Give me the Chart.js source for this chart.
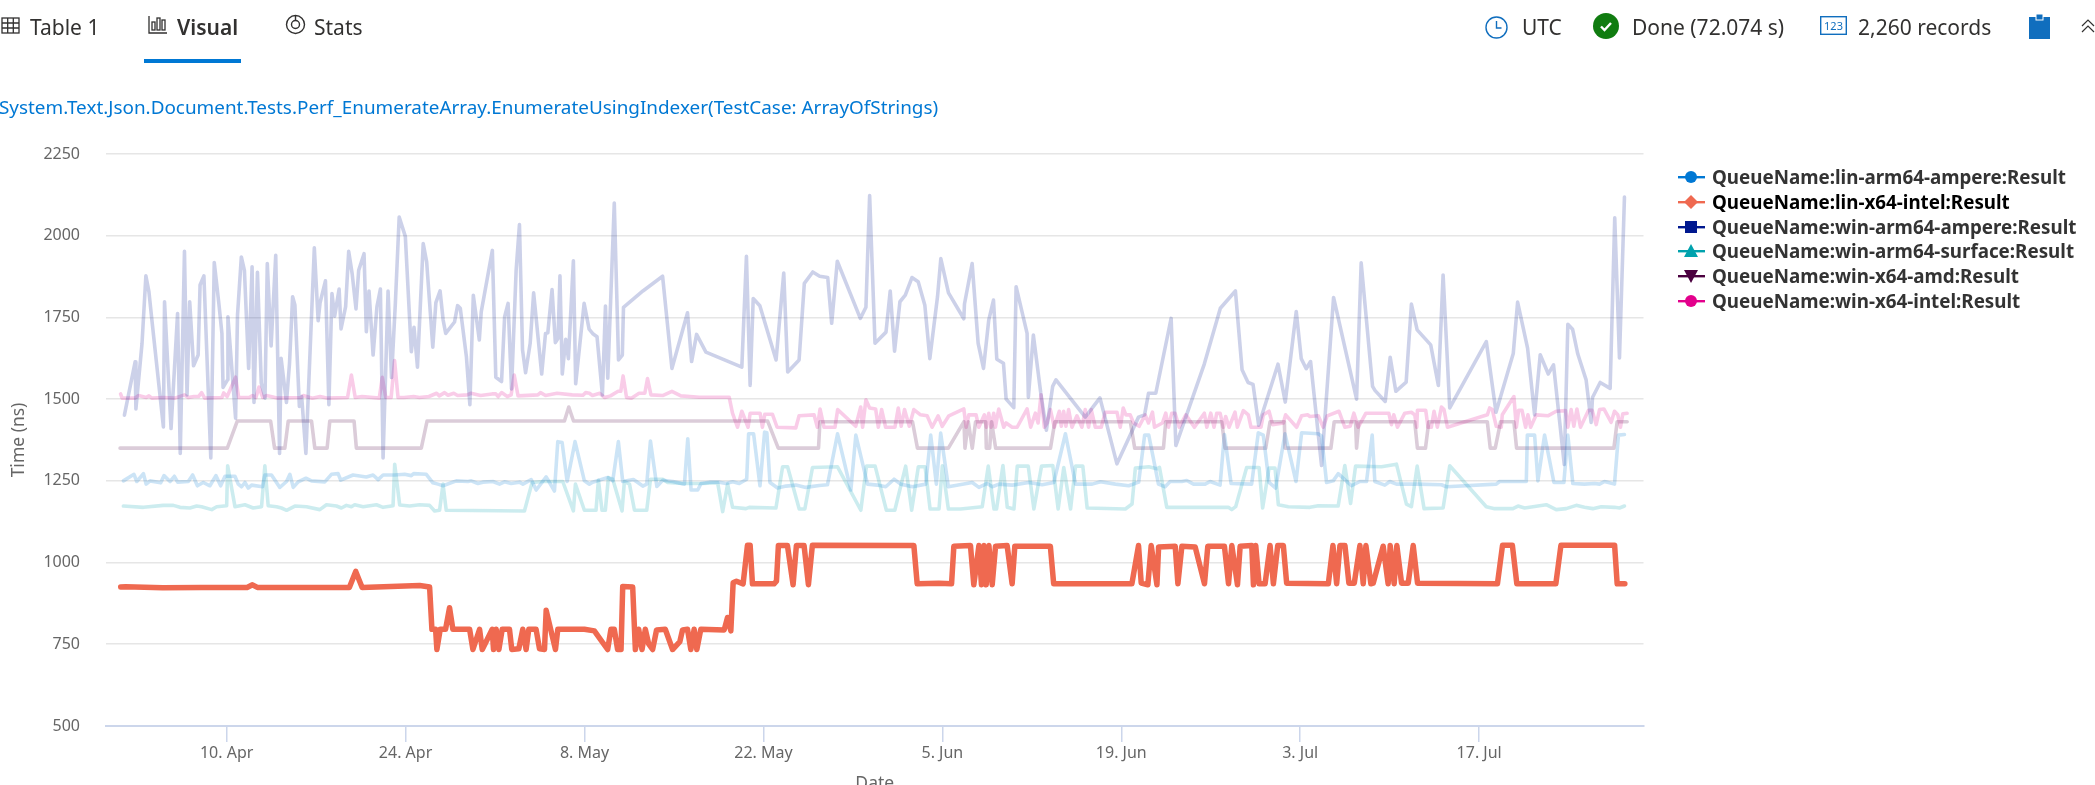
<!DOCTYPE html>
<html>
<head>
<meta charset="utf-8">
<title>EnumerateUsingIndexer</title>
<script src="https://cdn.jsdelivr.net/npm/chart.js@4"></script>
<style>
  html, body { margin: 0; padding: 0; width: 2095px; height: 785px; overflow: hidden; background: #fff; }
  body { position: relative; font-family: "Noto Sans", sans-serif; color: #323130; }
  canvas { position: absolute; left: 0; top: 0; }
  .txt { position: absolute; white-space: nowrap; font-size: 21px; line-height: 26px; top: 14px; }
  .ico { position: absolute; }
  #underline { position: absolute; left: 144px; top: 59px; width: 97px; height: 4px; background: #0078d4; }
  #title { position: absolute; left: -1px; top: 95px; font-size: 18.9px; line-height: 24px; color: #0078d4; white-space: nowrap; }
  #legend { position: absolute; left: 1678px; top: 165px; }
  .row { position: absolute; left: 0; height: 24px; white-space: nowrap; font-size: 18.8px; line-height: 24px; font-weight: 700; color: #333; }
  .row svg { position: absolute; left: 0; top: 0; }
  .row span { position: absolute; left: 34px; top: 0; }
</style>
</head>
<body>
<canvas id="chart" width="2095" height="810"></canvas>

<svg class="ico" style="left:1px;top:17px" width="19" height="17" viewBox="0 0 19 17" fill="none" stroke="#323130" stroke-width="1.3">
  <rect x="1" y="1" width="17" height="15"/><path d="M1 6h17M1 11h17M6.7 1v15M12.3 1v15"/>
</svg>
<div class="txt" style="left:30px">Table 1</div>
<svg class="ico" style="left:148px;top:15px" width="20" height="20" viewBox="0 0 20 20" fill="none" stroke="#323130" stroke-width="1.3">
  <path d="M1 1v17h18"/><rect x="4" y="7" width="3" height="8"/><rect x="9" y="3" width="3" height="12"/><rect x="14" y="5" width="3" height="10"/>
</svg>
<div class="txt" style="left:177px;font-weight:600">Visual</div>
<div id="underline"></div>
<svg class="ico" style="left:285px;top:14px" width="21" height="21" viewBox="0 0 21 21" fill="none" stroke="#323130" stroke-width="1.4">
  <circle cx="10.5" cy="10.5" r="9"/><circle cx="10.5" cy="10.5" r="4"/><path d="M10.5 1.5v5"/>
</svg>
<div class="txt" style="left:314px">Stats</div>

<svg class="ico" style="left:1485px;top:16px" width="23" height="23" viewBox="0 0 23 23" fill="none" stroke="#106ebe" stroke-width="1.4">
  <circle cx="11.5" cy="11.5" r="10.5"/><path d="M11.5 5v7h5"/>
</svg>
<div class="txt" style="left:1522px">UTC</div>
<svg class="ico" style="left:1593px;top:13px" width="26" height="26" viewBox="0 0 26 26">
  <circle cx="13" cy="13" r="13" fill="#107c10"/><path d="M8 13.5l3.5 3.5 6.5-7" fill="none" stroke="#fff" stroke-width="2.4"/>
</svg>
<div class="txt" style="left:1632px">Done (72.074 s)</div>
<svg class="ico" style="left:1820px;top:16px" width="27" height="19" viewBox="0 0 27 19">
  <rect x="0.7" y="0.7" width="25.6" height="17.6" fill="none" stroke="#106ebe" stroke-width="1.4"/>
  <text x="13.5" y="14" font-size="11" text-anchor="middle" fill="#106ebe" font-family="Noto Sans">123</text>
</svg>
<div class="txt" style="left:1858px">2,260 records</div>
<svg class="ico" style="left:2029px;top:13px" width="21" height="26" viewBox="0 0 21 26">
  <rect x="0" y="4" width="21" height="22" fill="#106ebe"/><rect x="7" y="1" width="7" height="6" fill="#106ebe" stroke="#fff" stroke-width="1"/>
</svg>
<svg class="ico" style="left:2081px;top:19px" width="14" height="14" viewBox="0 0 14 14" fill="none" stroke="#323130" stroke-width="1.2">
  <path d="M1 7l6-6 6 6M1 13l6-6 6 6"/>
</svg>

<div id="title">System.Text.Json.Document.Tests.Perf_EnumerateArray.EnumerateUsingIndexer(TestCase: ArrayOfStrings)</div>
<div id="legend"></div>

<script>
// days are counted from 10 Apr
const tickDays = [0, 14, 28, 42, 56, 70, 84, 98];
const tickLabels = ['10. Apr', '24. Apr', '8. May', '22. May', '5. Jun', '19. Jun', '3. Jul', '17. Jul'];
const yTicks = [500, 750, 1000, 1250, 1500, 1750, 2000, 2250];

const seriesNames = [
  'QueueName:lin-arm64-ampere:Result',
  'QueueName:lin-x64-intel:Result',
  'QueueName:win-arm64-ampere:Result',
  'QueueName:win-arm64-surface:Result',
  'QueueName:win-x64-amd:Result',
  'QueueName:win-x64-intel:Result'
];

const linArmDays = [-8.08,-7.25,-7.03,-6.51,-6.3,-5.99,-5.16,-4.9,-4.43,-4.09,-3.83,-3,-2.66,-2.29,-1.83,-1.31,-0.84,-0.47,-0.13,0.65,0.91,1.17,1.43,1.69,1.95,2.81,2.99,3.51,4.16,4.69,4.95,5.21,5.6,6.2,6.64,7.68,8.2,8.72,8.93,9.89,10.93,11.46,11.85,12.24,13.15,13.93,14.45,14.63,15.62,16.14,16.53,16.93,17.97,18.88,19.14,19.66,20.05,20.83,21.35,21.74,22.26,22.91,23.18,23.83,24.22,25,25.65,25.91,26.25,26.64,27.26,27.99,28.38,28.64,29.82,30.21,30.65,30.99,
  31.83,32.56,32.87,33.16,33.66,34.12,34.91,35.82,36.08,36.34,36.86,37.12,37.77,38.55,39.07,39.59,40.11,40.69,40.84,41.23,41.73,42.09,42.27,42.51,43.11,43.76,44.54,45.32,46.36,47.01,47.8,48.84,49.23,50.14,50.92,51.57,52.22,52.74,53.66,54.7,55.09,55.53,55.87,56.47,58.34,58.86,59.51,59.91,60.43,61.47,62.77,63.81,64.72,65.63,66.42,67.72,68.37,69.54,70.58,71.36,71.83,72.15,
  72.91,73.43,73.82,74.73,75.12,75.65,76.56,76.95,77.73,78.07,78.59,80.2,80.72,81.11,81.56,82.08,82.81,83.67,84.11,85.41,85.67,86.06,86.58,86.97,88.01,88.67,89.19,89.63,89.84,90.62,91.01,91.53,93.22,95.05,95.44,99.34,99.6,101.69,101.77,102.34,102.6,103.12,103.85,104.63,104.94,105.33,106.24,107.03,107.42,107.81,108.59,108.9,109.37];
const linArmValues = [1250,1270,1248,1272,1240,1250,1244,1266,1248,1264,1246,1248,1268,1235,1245,1235,1266,1235,1264,1264,1240,1232,1245,1228,1237,1232,1268,1268,1230,1248,1270,1230,1247,1258,1250,1247,1270,1272,1252,1268,1262,1268,1254,1268,1268,1270,1266,1272,1270,1244,1240,1235,1250,1248,1250,1242,1246,1248,1240,1247,1242,1246,1240,1254,1222,1262,1219,1370,1367,1248,1370,1250,1240,1246,1260,1250,1370,1248,
  1254,1234,1240,1372,1233,1252,1248,1240,1379,1222,1222,1242,1246,1246,1242,1247,1242,1255,1394,1394,1235,1399,1397,1245,1228,1234,1237,1230,1236,1238,1394,1222,1390,1240,1237,1232,1255,1240,1232,1240,1390,1240,1396,1232,1245,1230,1242,1232,1240,1237,1245,1238,1245,1394,1240,1240,1247,1240,1235,1246,1390,1390,
  1240,1232,1248,1248,1251,1240,1240,1248,1237,1392,1242,1240,1397,1390,1245,1228,1394,1248,1397,1394,1387,1245,1250,1272,1235,1248,1248,1390,1248,1237,1248,1240,1240,1238,1232,1240,1248,1248,1390,1390,1250,1390,1245,1245,1390,1242,1240,1242,1240,1248,1240,1390,1392];

const linX64Days = [-8.29,-7.9,-5,-2,1.6,2.02,2.4,9.6,10.1,10.6,15.1,15.88,16.06,16.35,16.45,16.71,17.13,17.44,17.7,19.01,19.27,19.79,20,20.78,20.88,21.09,21.3,21.56,22.13,22.31,22.86,23.17,23.43,23.64,24.21,24.48,24.87,25,25.73,25.91,27.99,28.77,29.81,30.07,30.33,30.59,30.86,30.99,31.77,31.98,32.24,32.5,32.76,33.02,33.33,33.64,34.32,34.89,35.46,35.67,36.06,36.32,36.58,36.79,37.1,38.93,39.19,39.45,39.63,39.89,40.41,40.75,40.96,41.14,42.83,43.02,43.17,43.88,44.32,44.58,45.18,45.52,45.83,53.77,54.03,55.72,
  56.72,56.9,58.2,58.46,58.86,59.06,59.25,59.43,59.64,59.9,60.16,61.07,61.46,61.67,64.45,64.71,70.83,71.35,71.56,72.08,72.34,72.79,72.92,74.22,74.43,74.74,75.78,76.51,76.77,78.07,78.39,78.65,79.09,79.3,80.21,80.34,80.52,80.78,81.25,81.64,81.9,82.24,82.68,82.94,86.2,86.56,86.85,87.11,87.5,87.81,88.23,88.67,88.93,89.14,89.53,89.71,90.49,90.88,91.04,91.35,91.56,91.93,92.45,92.84,93.18,99.43,99.83,100.6,100.95,104,104.4,108.6,108.8,109.4];
const linX64Values = [925,926,923,924,924,932,924,924,973,924,930,925,796,796,734,796,796,862,796,796,734,796,734,796,734,796,734,796,796,734,736,796,734,796,796,736,734,854,734,796,796,791,734,796,796,734,734,927,925,734,796,734,796,751,734,794,796,734,758,794,796,734,796,734,796,794,832,791,938,943,935,1053,1053,935,935,943,1052,1052,932,1052,1052,932,1053,1052,935,937,
  935,1050,1052,932,1052,932,1052,932,1052,932,1050,1052,935,1050,1050,935,935,1052,937,932,1052,932,1048,1050,935,1050,1048,935,1050,1050,935,1052,932,1050,1052,932,1052,935,935,1052,935,1052,1052,937,935,1052,935,1052,1052,937,937,1052,935,1052,935,937,1050,935,1052,935,1052,937,937,1052,937,935,1053,1053,935,935,1053,1053,935,935];

const winAmpereDays = [-8,-7.16,-7.1,-6.62,-6.32,-6.08,-5.85,-4.95,-4.86,-4.35,-3.84,-3.63,-3.3,-3.1,-2.89,-2.59,-2.23,-2.08,-1.78,-1.24,-0.97,-0.61,-0.37,-0.28,0.07,0.1,0.7,0.85,1.15,1.39,1.72,1.99,2.14,2.41,2.71,3,3.18,3.48,3.84,4.14,4.26,4.68,4.92,5.16,5.34,5.69,5.87,6.2,6.86,7.16,7.31,7.73,8,8.24,8.45,8.8,8.95,9.31,9.55,9.82,10.12,10.33,10.75,10.93,11.14,11.46,11.76,12.03,12.24,12.63,12.9,13.2,13.5,13.98,14.45,14.66,14.93,15.38,15.65,16.13,16.37,16.7,16.94,17.14,17.83,18.07,18.28,18.76,19.03,19.3,19.77,19.92,20.79,21.06,21.51,21.75,22.02,22.29,22.65,22.91,23.15,23.39,23.75,24.02,24.65,24.95,25.13,25.46,25.72,25.93,26.08,26.26,26.53,26.74,27.13,27.31,27.97,28.36,28.68,28.98,29.4,29.64,29.82,30.33,30.66,30.96,31.05,32.57,
  34.11,34.84,36.06,36.38,36.77,37.5,40.31,40.67,40.96,41.2,41.72,42.99,43.59,43.9,44.79,45.2,45.86,46.4,47.03,47.34,47.78,49.58,50.02,50.31,50.73,51.59,51.92,52.26,52.68,53.1,53.62,54.11,54.63,55.02,55.62,55.88,56.48,57.68,57.73,58.33,58.8,59.22,59.63,60,60.26,60.78,60.99,61.59,61.77,62.63,62.73,63.12,63.7,64.14,64.63,64.89,67.18,68.33,69.66,71.35,71.82,72.13,
  72.7,73.9,74.27,76.5,77.75,78.93,79.45,79.92,80.31,80.75,82.26,82.83,83.69,84.08,84.47,84.81,85.67,86.61,88.41,88.77,89.66,89.86,90.65,91.04,91.48,92.29,92.7,93.15,94.21,94.81,95.18,95.7,98.56,99.32,100.67,101.01,101.79,102.34,102.78,103.41,103.82,104.66,104.94,105.31,105.72,106.37,106.76,106.87,107.47,108.25,108.61,108.98,109.37];
const winAmpereValues = [1451,1614,1470,1671,1877,1828,1742,1415,1798,1410,1762,1334,1952,1513,1798,1602,1635,1849,1877,1320,1918,1793,1701,1536,1559,1752,1442,1757,1935,1894,1594,1905,1490,1888,1549,1503,1915,1663,1940,1334,1625,1490,1610,1813,1788,1478,1508,1334,1963,1740,1795,1862,1483,1823,1754,1837,1715,1783,1952,1884,1776,1894,1945,1706,1831,1635,1783,1837,1320,1831,1566,1793,2057,1998,1645,1720,1598,1976,1920,1659,1795,1831,1742,1701,1736,1786,1778,1630,1483,1818,1681,1767,1955,1567,1554,1752,1793,1531,1894,2034,1651,1581,1671,1825,1577,1701,1703,1835,1673,1686,1877,1577,1683,1624,1923,1547,1793,1714,1699,1691,1513,1785,1564,2100,1620,1635,1781,1831,
  1876,1594,1764,1615,1698,1644,1598,1937,1542,1808,1786,1620,1886,1583,1620,1854,1889,1876,1872,1732,1922,1747,1781,2123,1671,1705,1831,1647,1798,1818,1872,1859,1787,1624,1813,1930,1825,1746,1791,1915,1671,1594,1742,1803,1622,1610,1500,1474,1844,1701,1506,1696,1519,1405,1539,1559,1445,1504,1302,1445,1452,1518,
  1518,1747,1358,1608,1778,1831,1590,1551,1545,1420,1607,1491,1768,1624,1593,1615,1297,1811,1500,1917,1539,1526,1493,1628,1524,1552,1791,1712,1666,1542,1880,1473,1676,1460,1640,1797,1656,1452,1636,1577,1605,1300,1729,1714,1638,1559,1429,1505,1551,1533,2055,1626,2118];

const winSurfaceDays = [-8.08,-6.51,-4.95,-4.17,-3.65,-2.87,-2.35,-1.96,-1.17,-0.78,0,0.08,0.65,1.43,2.08,2.73,2.99,3.25,3.9,4.29,4.69,5.34,6.25,7.29,7.81,8.59,8.98,9.37,9.76,10.02,10.68,11.72,12.24,13.02,13.15,13.54,14.32,15.1,15.88,16.27,16.66,16.93,17.18,23.3,23.9,24.74,26.3,27.13,27.29,27.99,28.9,29.09,29.37,29.63,29.87,30.21,30.94,31.12,
  31.52,31.91,32.87,33.16,34.12,34.51,35.69,37.25,38.42,38.81,39.2,39.59,40.63,40.89,42.98,43.5,43.89,44.8,45.24,45.84,47.8,49.62,50.06,50.74,51.62,52.28,53.13,53.6,54.12,54.65,55.04,55.74,56,56.47,57.43,59.12,59.59,60.04,60.24,60.74,61.08,61.6,61.86,62.72,63.16,63.76,64.64,65.06,65.5,66.03,66.42,66.99,67.33,70.32,70.84,71.1,72.15,
  72.78,72.99,73.56,78.38,78.64,78.95,79.81,80.78,81.06,81.56,82.03,82.29,83.07,84.76,85.41,86.97,87.49,87.94,88.33,90.36,91.53,92.31,92.7,93.15,93.69,95.18,95.7,98.56,99.21,100.64,101.04,101.56,103.25,104.03,104.81,105.6,106.24,106.89,107.55,108.59,108.98,109.37];
const winSurfaceValues = [1173,1169,1175,1175,1169,1167,1173,1171,1162,1171,1174,1296,1171,1177,1167,1171,1296,1174,1171,1167,1160,1173,1171,1162,1177,1173,1167,1175,1171,1177,1171,1177,1169,1174,1301,1176,1173,1177,1175,1158,1160,1240,1160,1158,1245,1248,1248,1158,1240,1160,1160,1252,1160,1160,1260,1255,1158,1248,
  1240,1160,1160,1255,1255,1245,1242,1242,1244,1156,1240,1169,1165,1169,1167,1293,1293,1164,1164,1291,1293,1160,1295,1295,1160,1160,1295,1160,1293,1293,1164,1164,1296,1164,1164,1171,1295,1164,1164,1297,1169,1164,1295,1295,1164,1295,1297,1164,1291,1164,1295,1295,1167,1164,1179,1289,1293,
  1287,1291,1169,1169,1162,1171,1291,1291,1167,1289,1289,1177,1171,1169,1174,1173,1297,1181,1295,1293,1301,1179,1171,1295,1165,1167,1296,1171,1165,1165,1173,1167,1177,1162,1165,1175,1169,1165,1171,1169,1167,1173];

const winAmdDays = [-8.34,0.05,0.83,3.44,3.75,4.55,4.82,6.64,6.9,7.86,8.07,9.97,10.15,15.23,15.68,26.43,26.77,27.14,31.5,42.33,43.16,46.31,46.42,53.66,54.05,56.47,57.69,57.77,58.03,58.34,58.6,59.39,59.44,59.7,59.85,60.17,64.46,64.8,70.71,71.05,72.15,73.3,73.48,77.86,78.12,81.3,81.64,82.76,82.81,86.4,86.66,88.33,88.41,88.59,92.96,93.17,93.8,94.06,98.64,98.87,99.26,99.68,100.72,100.93,108.54,108.8,109.58];
const winAmdValues = [1350,1350,1433,1433,1350,1350,1433,1433,1350,1350,1433,1433,1350,1350,1433,1433,1476,1433,1433,1433,1350,1350,1431,1431,1350,1350,1431,1350,1431,1350,1431,1431,1350,1350,1431,1350,1350,1431,1431,1350,1350,1350,1431,1431,1350,1350,1431,1431,1350,1350,1431,1431,1350,1431,1431,1350,1350,1431,1431,1350,1350,1431,1431,1350,1350,1431,1431];

const winIntelDays = [-8.3,-8.18,-7.19,-6.89,-6.29,-6.08,-5.85,-4.95,-4.05,-3.3,-3,-2.56,-2.2,-1.96,-1.72,-0.37,-0.23,0.04,0.7,0.94,1.78,2.02,2.29,2.53,2.82,3.12,4.02,5.81,5.99,6.71,7.31,7.91,9.46,9.76,10.06,10.6,11.94,12.18,12.45,12.87,13.14,13.41,13.89,14.63,15.08,15.83,16.43,16.64,17.05,17.32,17.77,18.07,18.82,19.12,19.87,20.76,21.06,21.24,21.51,21.96,22.26,22.5,22.8,24.35,24.56,24.95,25.85,27.04,27.88,28.09,28.38,28.62,29.19,29.58,30.03,30.63,30.84,31.02,31.29,31.67,32.27,32.72,32.93,33.2,
  34.11,34.84,35.54,36.98,39.32,39.58,39.97,40.31,40.8,40.96,41.74,41.92,42.11,42.7,43.07,44.53,44.79,45.96,46.22,46.43,46.74,47.6,47.81,49.22,49.61,49.76,50.02,50.31,50.78,50.99,51.25,51.56,52.29,52.55,52.78,53.04,53.41,53.77,54.29,54.81,55.2,55.67,55.99,56.51,57.68,57.86,58.07,58.64,58.85,59.29,59.45,59.63,59.81,60.02,60.15,60.41,60.8,60.99,61.46,61.85,62.63,62.91,63.28,63.49,63.72,63.98,64.19,64.45,64.76,65.15,65.31,65.49,65.67,65.88,66.14,66.53,66.92,67.18,67.44,67.65,67.97,68.43,68.75,69.66,69.92,70.15,70.36,70.7,70.96,71.4,71.87,
  72.13,72.44,72.6,73.22,73.48,73.69,73.95,74.21,74.53,75.05,75.72,76.5,76.69,77,77.26,77.47,77.73,77.99,78.17,78.43,78.9,79.08,79.55,79.94,80.15,80.93,81.11,81.56,81.84,82.68,82.86,83.72,84.11,84.58,84.76,85.41,85.8,86.11,87.03,87.49,87.91,88.2,88.54,89.14,90.93,91.14,91.32,91.61,92.18,92.7,92.96,93.12,93.17,93.82,94,94.26,94.47,94.73,95.05,95.25,95.52,98.64,98.82,99.03,99.34,99.73,99.81,100.72,100.91,101.09,101.35,101.64,101.82,102.03,102.47,103.38,104.03,104.76,104.94,105.2,105.41,105.65,105.93,106.56,106.84,107.16,107.42,107.76,108.33,108.59,108.85,109.06,109.24,109.58];
const winIntelValues = [1516,1503,1503,1511,1505,1510,1503,1505,1503,1513,1505,1508,1508,1520,1503,1505,1519,1508,1567,1505,1505,1511,1505,1537,1505,1511,1503,1505,1511,1503,1508,1503,1505,1574,1505,1508,1503,1567,1505,1505,1618,1505,1505,1508,1505,1508,1518,1510,1520,1512,1518,1511,1513,1518,1511,1516,1516,1508,1520,1508,1513,1574,1510,1513,1520,1511,1518,1513,1512,1520,1518,1511,1518,1505,1510,1524,1524,1571,1505,1503,1518,1518,1563,1513,
  1511,1524,1510,1506,1506,1457,1414,1463,1414,1457,1457,1414,1454,1454,1414,1412,1449,1452,1414,1470,1414,1414,1468,1417,1476,1414,1498,1473,1470,1414,1468,1414,1414,1473,1417,1468,1417,1468,1452,1449,1414,1449,1417,1449,1470,1414,1452,1452,1414,1452,1414,1457,1414,1457,1414,1470,1414,1427,1414,1414,1470,1414,1457,1427,1513,1414,1427,1468,1414,1463,1417,1463,1417,1468,1414,1449,1414,1468,1414,1468,1414,1414,1460,1460,1414,1473,1452,1452,1427,1417,1452,
  1427,1460,1414,1427,1457,1414,1457,1457,1414,1452,1414,1457,1414,1457,1414,1457,1457,1414,1447,1414,1460,1414,1465,1452,1414,1414,1452,1463,1422,1427,1452,1414,1449,1452,1447,1449,1414,1449,1463,1414,1417,1457,1414,1457,1457,1422,1452,1414,1457,1460,1452,1414,1466,1466,1414,1414,1463,1414,1476,1468,1414,1452,1473,1468,1417,1414,1452,1508,1414,1466,1466,1414,1452,1414,1452,1449,1463,1465,1414,1468,1417,1470,1414,1466,1466,1422,1468,1470,1429,1463,1452,1414,1455,1457];

const seriesDays = [linArmDays, linX64Days, winAmpereDays, winSurfaceDays, winAmdDays, winIntelDays];
const seriesValues = [linArmValues, linX64Values, winAmpereValues, winSurfaceValues, winAmdValues, winIntelValues];

// lin-x64-intel is the highlighted one, the rest stay faded
const colores = ['#0078d4', '#ef6950', '#00188f', '#00a2ad', '#4b003f', '#e3008c'];
const coloresFaded = ['rgba(0,120,212,0.2)', '#ef6950', 'rgba(0,24,143,0.2)', 'rgba(0,162,173,0.2)', 'rgba(75,0,63,0.2)', 'rgba(227,0,140,0.2)'];
const marcadores = [
  '<circle cx="13" cy="12" r="6"/>',
  '<path d="M13 5l7 7-7 7-7-7z"/>',
  '<rect x="7" y="6" width="12" height="12"/>',
  '<path d="M13 5l7 13H6z"/>',
  '<path d="M13 19L6 6h14z"/>',
  '<circle cx="13" cy="12" r="6"/>'
];
const ejeFont = { family: '"Noto Sans", sans-serif', size: 16 };
const tituloFont = { family: '"Noto Sans", sans-serif', size: 17.5 };

function armarLeyenda() {
  const leyenda = document.getElementById('legend');
  seriesNames.forEach((nombre, i) => {
    const fila = document.createElement('div');
    fila.className = 'row';
    fila.style.top = (i * 24.8) + 'px';
    if (i === 1) fila.style.color = '#000';
    fila.innerHTML = '<svg width="27" height="24" fill="' + colores[i] + '"><rect x="0" y="11" width="27" height="2.4"/>' +
      marcadores[i] + '</svg><span>' + nombre + '</span>';
    leyenda.appendChild(fila);
  });
}

function armarGrafica() {
  const ctx = document.getElementById('chart').getContext('2d');

  const chartData = {
    datasets: seriesNames.map((nombre, i) => ({
      label: nombre,
      data: seriesDays[i].map((d, j) => ({ x: d, y: seriesValues[i][j] })),
      borderColor: coloresFaded[i],
      borderWidth: i === 1 ? 5.5 : 3.6,
      pointRadius: 0,
      tension: 0,
      borderJoinStyle: 'round',
      borderCapStyle: 'round',
      fill: false
    }))
  };

  new Chart(ctx, {
    type: 'line',
    data: chartData,
    options: {
      responsive: false,
      animation: false,
      devicePixelRatio: 1,
      layout: { padding: { top: 154, right: 451.5, left: 0, bottom: 0 } },
      plugins: { legend: { display: false }, tooltip: { enabled: false } },
      scales: {
        x: {
          type: 'linear',
          min: -9.44,
          max: 110.86,
          afterFit: (scale) => { scale.height = 84; },
          afterBuildTicks: (scale) => { scale.ticks = tickDays.map(v => ({ value: v })); },
          border: { color: '#ccd6eb', width: 2 },
          grid: { drawOnChartArea: false, color: '#ccd6eb', lineWidth: 1.5, tickLength: 16 },
          ticks: {
            font: ejeFont, color: '#666', padding: 2, maxRotation: 0, autoSkip: false,
            callback: (value) => tickLabels[tickDays.indexOf(value)]
          },
          title: { display: true, text: 'Date', font: tituloFont, color: '#666', padding: { top: 0, bottom: 15 } }
        },
        y: {
          min: 500,
          max: 2250,
          afterFit: (scale) => { scale.width = 106; },
          afterBuildTicks: (scale) => { scale.ticks = yTicks.map(v => ({ value: v })); },
          border: { display: false },
          grid: { color: '#e6e6e6', lineWidth: 1.6, drawTicks: false, tickLength: 0 },
          ticks: { font: ejeFont, color: '#666', padding: 26, callback: (value) => String(value) },
          title: { display: true, text: 'Time (ns)', font: tituloFont, color: '#666', padding: { top: 9, bottom: 0 } }
        }
      }
    }
  });
}

armarLeyenda();
armarGrafica();
</script>
</body>
</html>
